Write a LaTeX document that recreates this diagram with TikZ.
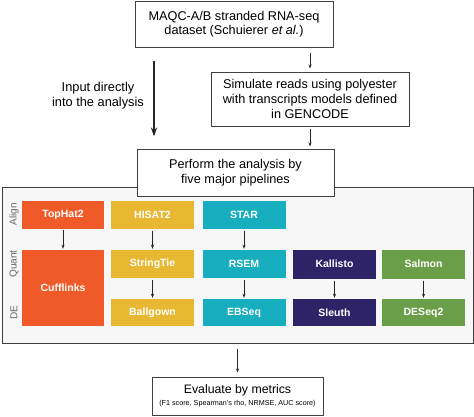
\documentclass[tikz,border=0pt]{standalone}
\usepackage{fontspec}
\setmainfont{Liberation Sans}
\usetikzlibrary{arrows.meta,calc}
\definecolor{tophatcol}{HTML}{EF5A28}
\definecolor{hisatcol}{HTML}{E8B833}
\definecolor{starcol}{HTML}{17AEC0}
\definecolor{kallistocol}{HTML}{2D2366}
\definecolor{salmoncol}{HTML}{6B9E48}
\tikzset{
	flowbox/.style={draw=black!75, line width=1pt, fill=white, align=center, inner sep=0pt, font=\fontsize{12.7}{14.8}\selectfont},
	toolbox/.style={text=white, inner sep=0pt, minimum width=83pt, minimum height=28pt, font=\bfseries\fontsize{10.5}{12}\selectfont},
	rowlabel/.style={rotate=90, text=black!60, font=\fontsize{10}{11}\selectfont},
	smallarrow/.style={-{Stealth[length=4pt,width=3pt]}, line width=0.7pt, black!85},
	bigarrow/.style={-{Stealth[length=9pt,width=6pt]}, line width=1.6pt, black!85}
}

\begin{document}
\begin{tikzpicture}[x=1pt,y=-1pt]
				  \useasboundingbox (0,0) rectangle (474,416);
				  %PIPELINES FRAME
				  \node[draw=black!75, line width=1pt, fill=black!3, minimum width=471pt, minimum height=156pt, inner sep=0pt] (pipes) at (237.5,265) {};
				  %FLOW BOXES
				  \node[flowbox, minimum width=198pt, minimum height=45.5pt] (data) at (234,24.25) {MAQC-A/B stranded RNA-seq\\dataset (Schuierer \textit{et al.})};
				  \node[flowbox, minimum width=198pt, minimum height=54pt] (sim) at (310,99) {Simulate reads using polyester\\with transcripts models defined\\in GENCODE};
				  \node[flowbox, minimum width=197pt, minimum height=47pt] (perform) at (235.5,172.5) {Perform the analysis by\\five major pipelines};
				  \node[flowbox, minimum width=171pt, minimum height=38pt, font=\fontsize{12.3}{14}\selectfont] (eval) at (237.5,396) {Evaluate by metrics\\[-2pt]{\fontsize{7.2}{8.5}\selectfont (F1 score, Spearman's rho, NRMSE, AUC score)}};
				  \coordinate (direct) at (154,0);
				  \node[align=center, font=\fontsize{12.8}{14.8}\selectfont] (directtxt) at (98,96) {Input directly\\into the analysis};

				  %ARROWS
				  \draw[smallarrow, shorten <=5pt, shorten >=3pt] (sim.north |- data.south) -- (sim.north);
				  \draw[smallarrow, shorten <=2pt, shorten >=2pt] (sim.south) -- (sim.south |- perform.north);
				  \draw[bigarrow, shorten <=13pt, shorten >=12pt] (data.south -| direct) -- (perform.north -| direct);
				  \draw[smallarrow, line width=1pt, shorten <=5pt, shorten >=4pt] (pipes.south -| eval.north) -- (eval.north);

				  %ROW LABELS
				  \node[rowlabel] (align) at (14,214.5) {Align};
				  \node[rowlabel] (quant) at (14,264) {Quant};
				  \node[rowlabel] (de) at (14,312.5) {DE};

				  %TOOLS
				  \node[toolbox, fill=tophatcol, minimum width=82pt] (tophat) at (63,214.5) {TopHat2};
				  \node[toolbox, fill=tophatcol, minimum width=82pt, minimum height=76pt] (cufflinks) at (63,288) {Cufflinks};
				  \node[toolbox, fill=hisatcol] (hisat) at (152.5,214.5) {HISAT2};
				  \node[toolbox, fill=hisatcol] (stringtie) at (152.5,264) {StringTie};
				  \node[toolbox, fill=hisatcol, minimum height=27pt] (ballgown) at (152.5,312.5) {Ballgown};
				  \node[toolbox, fill=starcol] (star) at (244,214.5) {STAR};
				  \node[toolbox, fill=starcol] (rsem) at (244,264) {RSEM};
				  \node[toolbox, fill=starcol, minimum height=27pt] (ebseq) at (244,312.5) {EBSeq};
				  \node[toolbox, fill=kallistocol, minimum height=29pt] (kallisto) at (334.5,264) {Kallisto};
				  \node[toolbox, fill=kallistocol, minimum height=27pt] (sleuth) at (334.5,312.5) {Sleuth};
				  \node[toolbox, fill=salmoncol, minimum height=29pt] (salmon) at (423.5,264) {Salmon};
				  \node[toolbox, fill=salmoncol, minimum height=27pt] (deseq) at (423.5,312.5) {DESeq2};

				  %TOOL ARROWS
				  \draw[smallarrow, shorten <=1pt, shorten >=1pt] (tophat) -- (cufflinks);
				  \draw[smallarrow, shorten <=2pt, shorten >=1pt] (hisat) -- (stringtie);
				  \draw[smallarrow, shorten <=2pt, shorten >=1pt] (stringtie) -- (ballgown);
				  \draw[smallarrow, shorten <=2pt, shorten >=1pt] (star) -- (rsem);
				  \draw[smallarrow, shorten <=2pt, shorten >=1pt] (rsem) -- (ebseq);
				  \draw[smallarrow, shorten <=2pt, shorten >=1pt] (kallisto) -- (sleuth);
				  \draw[smallarrow, shorten <=2pt, shorten >=1pt] (salmon) -- (deseq);
\end{tikzpicture}
\end{document}
